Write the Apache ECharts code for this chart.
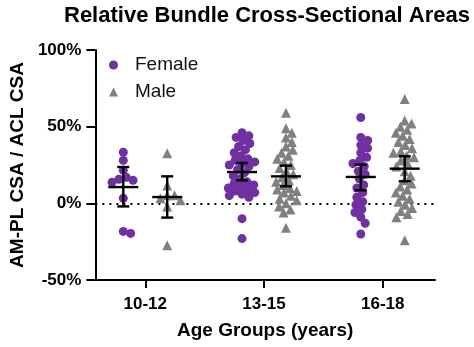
<!DOCTYPE html>
<html>
<head>
<meta charset="utf-8">
<script src="https://cdn.jsdelivr.net/npm/echarts@6/dist/echarts.min.js"></script>
<style>
  html, body { margin: 0; padding: 0; background: #fff; }
  #chart { width: 474px; height: 347px; }
</style>
</head>
<body>
<div id="chart"></div>
<script>
// Age groups on the x axis (positioned at 1, 2, 3)
const groups = ['10-12', '13-15', '16-18'];
const groupPositions = [1, 2, 3];

// Individual AM-PL / ACL cross-sectional area ratios (%)
const female1012 = [33.3, 28, 21.5, 17, 15.7, 15, 13.7, 3.3, -18.3, -19.6];
const female1315 = [46, 44, 43, 41, 39, 37, 35, 33, 31, 29, 28, 27, 26, 25, 24, 22, 20, 18, 16, 14,
                    13, 12, 11, 10, 9, 8, 7, 6, 5, 4, -10, -23];
const female1618 = [56, 43, 41, 38, 36, 33, 30, 28, 26, 24, 21, 19, 16, 12, 10, 7, 4, 1,
                    -1, -4, -6, -9, -13, -20];
const male1012 = [32.6, 11.7, 5.2, 5.2, 3.3, 2, -2, -27.4];
const male1315 = [59, 49, 46, 43, 40, 37, 35, 33, 31, 29, 27, 25, 23, 21, 19, 17, 15, 14, 12, 10,
                  9, 8, 7, 5, 3, 2, 0, -2, -4, -6, -16];
const male1618 = [68, 54, 52, 50, 48, 46, 44, 42, 40, 38, 36, 34, 33, 31, 30, 28, 26, 24, 21, 18,
                  15, 13, 11, 9, 7, 5, 3, 1, -1, -3, -5, -7, -9, -24];

// Group mean with interval bounds (%)
const femaleMean = [10.6, 20.4, 17.2];
const femaleLow = [-2, 15, 8.5];
const femaleHigh = [23.7, 26.3, 25.2];
const maleMean = [4.1, 17.6, 22.6];
const maleLow = [-9.3, 11.1, 14.4];
const maleHigh = [17.6, 24.6, 30.7];

// Axis ticks
const yTicks = [-50, 0, 50, 100];

// ---- layout ----
const W = 474, H = 347;
const grid = { left: 88, right: 39, top: 50, bottom: 67 };
const xMin = 0.58, xMax = 3.44;
const yMin = -50, yMax = 100;
const sexOffset = 0.185;
const pxPerX = (W - grid.left - grid.right) / (xMax - xMin);
const pxPerY = (H - grid.top - grid.bottom) / (yMax - yMin);

const PURPLE = '#7030a0';
const GREY = '#808080';
const FONT = "'Liberation Sans', Arial, sans-serif";

// Beeswarm: spread points sideways so markers of similar value do not pile up
function swarm(values, center, diam) {
  const placed = [];
  const out = new Array(values.length);
  const order = values.map((v, i) => i).sort((a, b) => values[b] - values[a]);
  order.forEach(i => {
    const py = values[i] * pxPerY;
    let dx = 0;
    for (let k = 0; k < 400; k++) {
      const cand = (k % 2 ? 1 : -1) * Math.ceil(k / 2) * 0.5;
      if (placed.every(p => (p.x - cand) ** 2 + (p.y - py) ** 2 >= diam * diam)) { dx = cand; break; }
    }
    placed.push({ x: dx, y: py });
    out[i] = [center + dx / pxPerX, values[i]];
  });
  return out;
}

const femaleGroups = [female1012, female1315, female1618];
const maleGroups = [male1012, male1315, male1618];

const femalePoints = [].concat(...femaleGroups.map((vals, g) =>
  swarm(vals, groupPositions[g] - sexOffset, 7.5)));
const malePoints = [].concat(...maleGroups.map((vals, g) =>
  swarm(vals, groupPositions[g] + sexOffset, 7.5)));

const femaleBars = groupPositions.map((p, g) => [p - sexOffset, femaleMean[g], femaleLow[g], femaleHigh[g]]);
const maleBars = groupPositions.map((p, g) => [p + sexOffset, maleMean[g], maleLow[g], maleHigh[g]]);

// Mean line with whiskers and caps
function errorBar(params, api) {
  const x = api.value(0);
  const pm = api.coord([x, api.value(1)]);
  const pl = api.coord([x, api.value(2)]);
  const ph = api.coord([x, api.value(3)]);
  const half = 15, cap = 6;
  const style = { stroke: '#000', lineWidth: 2.4, fill: null };
  return {
    type: 'group',
    children: [
      { type: 'line', shape: { x1: pm[0] - half, y1: pm[1], x2: pm[0] + half, y2: pm[1] }, style },
      { type: 'line', shape: { x1: ph[0], y1: ph[1], x2: pl[0], y2: pl[1] }, style },
      { type: 'line', shape: { x1: ph[0] - cap, y1: ph[1], x2: ph[0] + cap, y2: ph[1] }, style },
      { type: 'line', shape: { x1: pl[0] - cap, y1: pl[1], x2: pl[0] + cap, y2: pl[1] }, style }
    ]
  };
}

const chart = echarts.init(document.getElementById('chart'), null, { renderer: 'canvas' });
chart.setOption({
  animation: false,
  backgroundColor: '#fff',
  title: {
    text: 'Relative Bundle Cross-Sectional Areas',
    left: 59,
    top: 0,
    textStyle: { fontFamily: FONT, fontSize: 22, fontWeight: 'bold', color: '#000' }
  },
  legend: {
    orient: 'vertical',
    left: 104,
    top: 50,
    itemWidth: 9,
    itemHeight: 9,
    itemGap: 7,
    symbolKeepAspect: true,
    data: [
      { name: 'Female', icon: 'circle', itemStyle: { color: PURPLE } },
      { name: 'Male', icon: 'triangle', itemStyle: { color: GREY } }
    ],
    textStyle: { fontFamily: FONT, fontSize: 19, color: '#111', lineHeight: 20, padding: [0, 0, 0, 12] }
  },
  grid: { left: grid.left, right: grid.right, top: grid.top, bottom: grid.bottom },
  xAxis: {
    type: 'value',
    min: xMin,
    max: xMax,
    name: 'Age Groups (years)',
    nameLocation: 'middle',
    nameGap: 41,
    nameTextStyle: { fontFamily: FONT, fontSize: 19, fontWeight: 'bold', color: '#000' },
    axisLine: { onZero: false, lineStyle: { color: '#000', width: 2 } },
    axisTick: { customValues: groupPositions, length: 8, lineStyle: { color: '#000', width: 2 } },
    axisLabel: {
      customValues: groupPositions,
      formatter: v => groups[groupPositions.indexOf(v)] || '',
      margin: 16,
      fontFamily: FONT, fontSize: 17, fontWeight: 'bold', color: '#000'
    },
    splitLine: { show: false }
  },
  yAxis: {
    type: 'value',
    min: yMin,
    max: yMax,
    interval: 50,
    name: 'AM-PL CSA / ACL CSA',
    nameLocation: 'middle',
    nameGap: 62,
    nameTextStyle: { fontFamily: FONT, fontSize: 19, fontWeight: 'bold', color: '#000' },
    axisLine: { show: true, lineStyle: { color: '#000', width: 2 } },
    axisTick: { show: true, customValues: yTicks, length: 9, lineStyle: { color: '#000', width: 2 } },
    axisLabel: {
      customValues: yTicks,
      formatter: v => v + '%',
      margin: 14,
      fontFamily: FONT, fontSize: 17, fontWeight: 'bold', color: '#000'
    },
    splitLine: { show: false }
  },
  series: [
    {
      name: 'Female',
      type: 'scatter',
      symbol: 'circle',
      symbolSize: 9,
      itemStyle: { color: PURPLE, opacity: 1 },
      data: femalePoints,
      z: 3,
      markLine: {
        silent: true,
        symbol: ['none', 'none'],
        label: { show: false },
        lineStyle: { color: '#000', type: [2, 5], width: 2 },
        data: [{ yAxis: 0 }],
        z: 1
      }
    },
    {
      name: 'Male',
      type: 'scatter',
      symbol: 'triangle',
      symbolSize: 10,
      itemStyle: { color: GREY, opacity: 1 },
      data: malePoints,
      z: 3
    },
    {
      type: 'custom',
      renderItem: errorBar,
      data: femaleBars.concat(maleBars),
      z: 5,
      silent: true
    }
  ]
});
</script>
</body>
</html>
